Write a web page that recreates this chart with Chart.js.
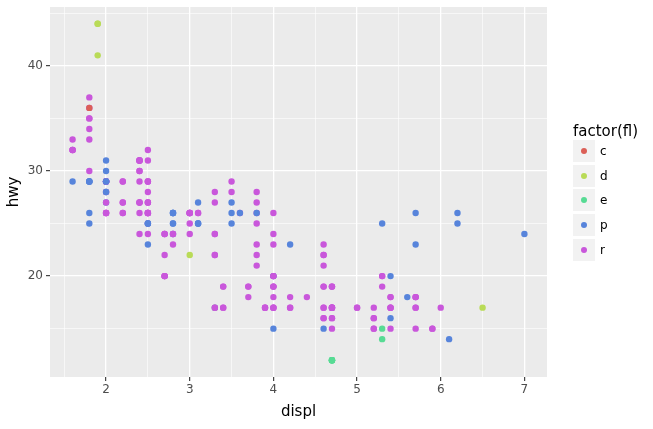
<!DOCTYPE html>
<html>
<head>
<meta charset="utf-8">
<script src="https://cdn.jsdelivr.net/npm/chart.js@4/dist/chart.umd.min.js"></script>
<style>
  html, body { margin: 0; padding: 0; background: #fff; }
  #wrap { position: relative; width: 653px; height: 429px; font-family: "DejaVu Sans", sans-serif; }
  #legend { position: absolute; left: 573px; top: 122px; }
  #legend .title { font-size: 15px; color: #000; line-height: 18px; margin-bottom: 0px; white-space: nowrap; }
  #legend .item { display: flex; align-items: center; height: 22px; margin-bottom: 2.7px; }
  #legend .key { width: 22px; height: 22px; background: #F2F2F2; position: relative; }
  #legend .dot { position: absolute; left: 8px; top: 8px; width: 6px; height: 6px; border-radius: 50%; }
  #legend .lab { font-size: 12px; color: #000; margin-left: 5px; }
</style>
</head>
<body>
<div id="wrap">
  <canvas id="c" width="653" height="429"></canvas>
  <div id="legend"></div>
</div>
<script>
// mpg data, in row order: engine displacement, highway mpg, fuel type
const displ = [1.8,1.8,2.0,2.0,2.8,2.8,3.1,1.8,1.8,2.0,2.0,2.8,2.8,3.1,3.1,2.8,3.1,4.2,5.3,5.3,
5.3,5.7,6.0,5.7,5.7,6.2,6.2,7.0,5.3,5.3,5.7,6.5,2.4,2.4,3.1,3.5,3.6,2.4,3.0,3.3,
3.3,3.3,3.3,3.3,3.8,3.8,3.8,4.0,3.7,3.7,3.9,3.9,4.7,4.7,4.7,5.2,5.2,3.9,4.7,4.7,
4.7,5.2,5.7,5.9,4.7,4.7,4.7,4.7,4.7,4.7,5.2,5.2,5.7,5.9,4.6,5.4,5.4,4.0,4.0,4.0,
4.0,4.6,5.0,4.2,4.2,4.6,4.6,4.6,5.4,5.4,3.8,3.8,4.0,4.0,4.6,4.6,4.6,4.6,5.4,1.6,
1.6,1.6,1.6,1.6,1.8,1.8,1.8,2.0,2.4,2.4,2.4,2.4,2.5,2.5,3.3,2.0,2.0,2.0,2.0,2.7,
2.7,2.7,3.0,3.7,4.0,4.7,4.7,4.7,5.7,6.1,4.0,4.2,4.4,4.6,5.4,5.4,5.4,4.0,4.0,4.6,
5.0,2.4,2.4,2.5,2.5,3.5,3.5,3.0,3.0,3.5,3.3,3.3,4.0,5.6,3.1,3.8,3.8,3.8,5.3,2.5,
2.5,2.5,2.5,2.5,2.5,2.2,2.2,2.5,2.5,2.5,2.5,2.5,2.5,2.7,2.7,3.4,3.4,4.0,4.7,2.2,
2.2,2.4,2.4,3.0,3.0,3.5,2.2,2.2,2.4,2.4,3.0,3.0,3.3,1.8,1.8,1.8,1.8,1.8,4.7,5.7,
2.7,2.7,2.7,3.4,3.4,4.0,4.0,2.0,2.0,2.0,2.0,2.8,1.9,2.0,2.0,2.0,2.0,2.5,2.5,2.8,
2.8,1.9,1.9,2.0,2.0,2.5,2.5,1.8,1.8,2.0,2.0,2.8,2.8,3.6];
const hwy = [29,29,31,30,26,26,27,26,25,28,27,25,25,25,25,24,25,23,20,15,
20,17,17,26,23,26,25,24,19,14,15,17,27,30,26,29,26,24,24,22,
22,24,24,17,22,21,23,23,19,18,17,17,19,19,12,17,15,17,17,12,
17,16,18,15,16,12,17,17,16,12,15,16,17,15,17,17,18,17,19,17,
19,19,17,17,17,16,16,17,15,17,26,25,26,24,21,22,23,22,20,33,
32,32,29,32,34,36,36,29,26,27,30,31,26,26,28,26,29,28,27,24,
24,24,22,19,20,17,12,19,18,14,15,18,18,15,17,16,18,17,19,19,
17,29,27,31,32,27,26,26,25,25,17,17,20,18,26,26,27,28,25,25,
24,27,25,26,23,26,26,26,26,25,27,25,27,20,20,19,17,20,17,29,
27,31,31,26,26,28,27,29,31,31,26,26,27,30,33,35,37,35,15,18,
20,20,22,17,19,18,20,29,26,29,29,24,44,29,26,29,29,29,29,23,
24,44,41,29,26,28,29,29,29,28,29,26,26,26];
const fl = ["p","p","p","p","p","p","p","p","p","p","p","p","p","p","p","p","p","p","r","e",
"r","r","r","p","p","p","p","p","r","e","r","d","r","r","r","r","r","r","r","r",
"r","r","r","e","r","r","r","r","r","r","r","r","r","r","e","r","r","r","r","e",
"r","r","r","r","r","e","r","r","r","e","r","r","r","r","r","r","r","r","r","r",
"r","r","r","r","r","r","r","r","r","r","r","r","r","r","r","r","r","r","p","r",
"r","r","p","r","r","r","c","p","r","r","r","r","r","r","r","r","r","r","r","r",
"r","r","d","r","r","r","e","r","r","p","p","r","r","p","r","p","r","r","r","r",
"r","r","r","r","r","p","p","r","r","p","r","r","p","p","r","p","r","r","p","r",
"r","r","p","r","p","r","r","r","r","p","r","p","r","r","r","r","r","r","r","r",
"r","r","r","r","r","r","r","r","r","r","r","r","r","r","r","r","r","r","r","r",
"r","r","r","r","r","r","r","r","r","p","p","r","d","r","r","p","p","r","r","r",
"r","d","d","r","r","r","r","p","p","p","p","p","p","p"];
const levels = ["c","d","e","p","r"];
const palette = ["#DB5F57","#B9DB57","#57DB94","#5784DB","#C957DB"];
const xTickLabels = [2,3,4,5,6,7];
const yTickLabels = [20,30,40];

const colorOf = f => palette[levels.indexOf(f)];
const points = displ.map((x, i) => ({ x: x, y: hwy[i] }));
const pointColors = fl.map(colorOf);

// HTML legend
const lg = document.getElementById('legend');
const t = document.createElement('div'); t.className = 'title'; t.textContent = 'factor(fl)'; lg.appendChild(t);
levels.forEach((lv, i) => {
  const it = document.createElement('div'); it.className = 'item';
  const k = document.createElement('div'); k.className = 'key';
  const d = document.createElement('div'); d.className = 'dot'; d.style.background = palette[i];
  k.appendChild(d);
  const l = document.createElement('div'); l.className = 'lab'; l.textContent = lv;
  it.appendChild(k); it.appendChild(l); lg.appendChild(it);
});

const isMajorX = v => xTickLabels.some(m => Math.abs(m - v) < 1e-6);
const isMajorY = v => yTickLabels.some(m => Math.abs(m - v) < 1e-6);
const keepHalf = (scale, step) => {
  scale.ticks = scale.ticks.filter(tk => Math.abs(tk.value / step - Math.round(tk.value / step)) < 1e-6);
};

const panelBg = {
  id: 'panelBg',
  beforeDraw(chart) {
    const a = chart.chartArea, ctx = chart.ctx;
    ctx.save(); ctx.fillStyle = '#EBEBEB';
    ctx.fillRect(a.left, a.top, a.right - a.left, a.bottom - a.top);
    ctx.restore();
  }
};

new Chart(document.getElementById('c'), {
  type: 'scatter',
  data: { datasets: [{ data: points, pointBackgroundColor: pointColors, pointBorderWidth: 0, pointRadius: 3.2, pointHoverRadius: 3.2 }] },
  options: {
    responsive: false, animation: false, devicePixelRatio: 1,
    layout: { padding: { top: 7, right: 106, left: 0, bottom: 0 } },
    plugins: { legend: { display: false }, tooltip: { enabled: false } },
    scales: {
      x: {
        type: 'linear', min: 1.33, max: 7.27,
        afterBuildTicks: s => keepHalf(s, 0.5),
        afterFit: s => { s.height = 52; s.paddingLeft = 0; s.paddingRight = 0; },
        ticks: { stepSize: 0.5, includeBounds: false, maxTicksLimit: 1000, autoSkip: false, maxRotation: 0, padding: 2, color: '#4D4D4D',
          font: { family: 'DejaVu Sans', size: 12 },
          callback: v => isMajorX(v) ? String(v) : '' },
        grid: { color: '#FFFFFF', lineWidth: c => isMajorX(c.tick.value) ? 1.3 : 0.6,
          tickColor: c => isMajorX(c.tick.value) ? '#333333' : 'rgba(0,0,0,0)', tickLength: 4, tickWidth: 1.1 },
        border: { display: false },
        title: { display: true, text: 'displ', color: '#000', font: { family: 'DejaVu Sans', size: 15 }, padding: { top: 0, bottom: 8 } }
      },
      y: {
        type: 'linear', min: 10.4, max: 45.6,
        afterBuildTicks: s => keepHalf(s, 5),
        afterFit: s => { s.width = 50; s.paddingTop = 0; s.paddingBottom = 0; },
        ticks: { stepSize: 5, includeBounds: false, maxTicksLimit: 1000, autoSkip: false, padding: 3, color: '#4D4D4D',
          font: { family: 'DejaVu Sans', size: 12 },
          callback: v => isMajorY(v) ? String(v) : '' },
        grid: { color: '#FFFFFF', lineWidth: c => isMajorY(c.tick.value) ? 1.3 : 0.6,
          tickColor: c => isMajorY(c.tick.value) ? '#333333' : 'rgba(0,0,0,0)', tickLength: 4, tickWidth: 1.1 },
        border: { display: false },
        title: { display: true, text: 'hwy', color: '#000', font: { family: 'DejaVu Sans', size: 15 }, padding: { top: 5, bottom: 0 } }
      }
    }
  },
  plugins: [panelBg]
});
</script>
</body>
</html>
